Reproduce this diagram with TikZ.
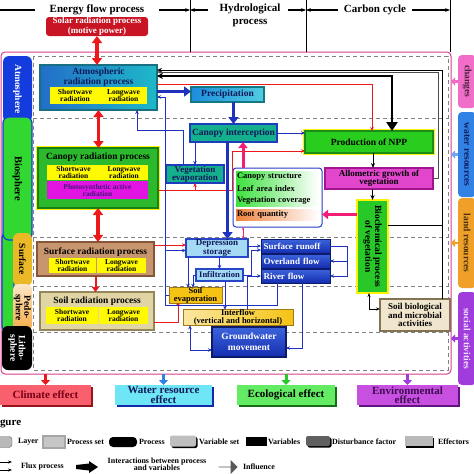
\documentclass[tikz,border=0pt]{standalone}
\usepackage{fontspec}
\setmainfont{Liberation Serif}
\usetikzlibrary{arrows.meta,shadows,shapes.arrows}

\definecolor{solarred}{RGB}{200,20,35}
\definecolor{atmL}{RGB}{35,110,200}
\definecolor{atmR}{RGB}{30,185,200}
\definecolor{atmD}{RGB}{25,110,130}
\definecolor{atmtxt}{RGB}{15,25,90}
\definecolor{subyel}{RGB}{255,250,0}
\definecolor{canG}{RGB}{45,185,45}
\definecolor{canD}{RGB}{20,130,20}
\definecolor{parmag}{RGB}{225,20,225}
\definecolor{partxt}{RGB}{70,20,130}
\definecolor{surfB}{RGB}{200,150,110}
\definecolor{surfD}{RGB}{135,85,55}
\definecolor{soilB}{RGB}{225,212,165}
\definecolor{soilD}{RGB}{150,135,90}
\definecolor{precL}{RGB}{30,140,220}
\definecolor{precR}{RGB}{80,205,225}
\definecolor{precD}{RGB}{20,120,130}
\definecolor{ciG}{RGB}{20,175,140}
\definecolor{ciB}{RGB}{30,60,190}
\definecolor{nppG}{RGB}{40,205,30}
\definecolor{nppD}{RGB}{25,140,25}
\definecolor{alloM}{RGB}{225,70,205}
\definecolor{alloD}{RGB}{160,20,140}
\definecolor{bioG}{RGB}{40,200,40}
\definecolor{sbB}{RGB}{240,230,205}
\definecolor{sbD}{RGB}{130,115,85}
\definecolor{varG}{RGB}{60,225,60}
\definecolor{rootO}{RGB}{240,130,60}
\definecolor{vsB}{RGB}{40,60,200}
\definecolor{dsB}{RGB}{165,218,245}
\definecolor{dsD}{RGB}{40,70,200}
\definecolor{evY}{RGB}{245,195,20}
\definecolor{evD}{RGB}{160,120,20}
\definecolor{rfB}{RGB}{20,45,175}
\definecolor{rfL}{RGB}{60,100,220}
\definecolor{fluxB}{RGB}{30,50,190}
\definecolor{radR}{RGB}{235,25,25}
\definecolor{intM}{RGB}{240,30,120}
\definecolor{framepink}{RGB}{215,60,140}
\definecolor{laygray}{RGB}{130,130,130}
\definecolor{atmoB}{RGB}{20,60,220}
\definecolor{bioL}{RGB}{50,215,50}
\definecolor{surfG}{RGB}{235,185,40}
\definecolor{pedoO}{RGB}{245,170,70}
\definecolor{chgP}{RGB}{240,110,200}
\definecolor{wrB}{RGB}{50,130,230}
\definecolor{lrO}{RGB}{240,160,40}
\definecolor{saP}{RGB}{160,60,220}
\definecolor{climR}{RGB}{250,95,110}
\definecolor{climD}{RGB}{150,20,30}
\definecolor{climT}{RGB}{120,0,20}
\definecolor{watC}{RGB}{110,230,245}
\definecolor{watD}{RGB}{20,40,170}
\definecolor{ecoG}{RGB}{100,235,100}
\definecolor{ecoD}{RGB}{20,110,20}
\definecolor{envP}{RGB}{200,80,225}
\definecolor{envD}{RGB}{100,20,130}

\newcommand\hdrfont{\fontsize{11}{13}\selectfont\bfseries}
\newcommand\solfont{\fontsize{9}{9.5}\selectfont\bfseries}
\newcommand\ttlfont{\fontsize{9.5}{8.5}\selectfont\bfseries}
\newcommand\tightfont{\fontsize{9}{8.3}\selectfont\bfseries}
\newcommand\smtightfont{\fontsize{8.5}{7.8}\selectfont\bfseries}
\newcommand\subtxtfont{\fontsize{7.5}{7}\selectfont\bfseries}
\newcommand\varfont{\fontsize{8.5}{8.5}\selectfont\bfseries}
\newcommand\effont{\fontsize{11}{9.5}\selectfont\bfseries}
\newcommand\legfont{\fontsize{8}{7.5}\selectfont\bfseries}
\newcommand\barfont{\fontsize{9.5}{8.5}\selectfont\bfseries}

\begin{document}
\begin{tikzpicture}[x=1pt,y=-1pt,
  every node/.style={inner sep=0pt,outer sep=0pt,align=center},
  box/.style 2 args={minimum width=#1pt,minimum height=#2pt},
  pset/.style 2 args={fill=#1,draw=#2,line width=2.5pt},
  sub/.style={fill=subyel,font=\subtxtfont},
  varitem/.style={left color=#1,right color=white,text width=80pt,inner xsep=1pt,minimum height=11pt,align=left,font=\varfont},
  hydbox/.style 2 args={fill=#1,draw=#2,line width=1.5pt,font=\tightfont},
  runbox/.style={top color=rfL,bottom color=rfB,draw=rfB!60!black,line width=1pt,text=white,text width=64pt,align=left,font=\fontsize{9}{9}\selectfont\bfseries},
  lbar/.style={rounded corners=6pt},
  rbar/.style={rounded corners=4pt},
  eff/.style 2 args={fill=#1,drop shadow={shadow xshift=2pt,shadow yshift=-2pt,fill=#2,opacity=1},font=\effont},
  legtxt/.style={anchor=west,font=\legfont},
  laydash/.style={draw=laygray,dash pattern=on 4pt off 3pt,line width=0.8pt},
  hdr/.style={line width=1.5pt},
  flux/.style={draw=fluxB,line width=0.9pt,-{Stealth[length=4pt,width=3.5pt]}},
  bigflux/.style={draw=fluxB,line width=3pt,-{Triangle[length=7pt,width=10pt]}},
  rad/.style={draw=radR,line width=3.5pt,{Triangle[length=7pt,width=10pt]}-{Triangle[length=7pt,width=10pt]}},
  radone/.style={draw=radR,line width=2pt,-{Triangle[length=5pt,width=7pt]}},
  redthin/.style={draw=radR,line width=0.9pt,-{Stealth[length=4pt,width=3.5pt]}},
  blk/.style={draw=black,line width=1pt,-{Stealth[length=5pt,width=4pt]}},
  blkthick/.style={draw=black,line width=2.5pt,{Stealth[length=6pt,width=6pt]}-{Triangle[length=9pt,width=11pt]}},
  interact/.style={draw=intM,line width=3pt,-{Triangle[length=6pt,width=9pt]}},
  effarr/.style={draw=#1,line width=3pt,-{Triangle[length=5pt,width=9pt]}},
  rarr/.style={draw=#1,line width=2.5pt,-{Triangle[length=4pt,width=8pt]}}]
\useasboundingbox (0,0) rectangle (474,474);

% frame and layers
\node[draw=framepink,line width=1pt,rounded corners=4pt,box={450}{322}] (frame) at (226,213) {};
\draw[laydash] (33,56) rectangle (448,370);
\foreach \yy in {118,237,286,332} \draw[laydash] (33,\yy) -- (448,\yy);

% header
\node[font=\hdrfont] (efp) at (97,10) {Energy flow process};
\node[font=\hdrfont] (hyd) at (250,15) {Hydrological\\process};
\node[font=\hdrfont] (cc) at (375,10) {Carbon cycle};
\coordinate (sepA) at (190,0);
\coordinate (sepB) at (306,0);
\coordinate (sepC) at (450,0);
\coordinate (lftedge) at (0,10);
\draw (sepA) -- (sepA |- frame.north);
\draw (sepB) -- (sepB |- frame.north);
\draw (sepC) -- (sepC |- frame.north);
\draw[hdr] ([xshift=-15pt]efp.west) -- (lftedge);
\draw[hdr,-{Stealth[length=5pt]}] ([xshift=15pt]efp.east) -- (sepA |- efp);
\draw[hdr,-{Stealth[length=5pt]}] ([xshift=-12pt,yshift=5pt]hyd.west) -- (sepA |- efp);
\draw[hdr,-{Stealth[length=5pt]}] ([xshift=8pt,yshift=5pt]hyd.east) -- (sepB |- efp);
\draw[hdr,-{Stealth[length=5pt]}] ([xshift=-6pt]cc.west) -- (sepB |- cc);
\draw[hdr,-{Stealth[length=5pt]}] ([xshift=6pt]cc.east) -- (sepC |- cc);
\node[fill=solarred,rounded corners=3pt,box={102}{19},text=white,font=\solfont] (solar) at (97,26.5) {Solar radiation process\\(motive power)};

% layer bars
\node[lbar,fill=atmoB,box={29}{66},label={[rotate=-90,text=white,font=\barfont]center:Atmosphere}] (lyatm) at (17.5,89) {};
\node[lbar,fill=bioL,draw=atmoB,line width=1.2pt,box={12}{100}] (lystem) at (8,282) {};
\node[lbar,fill=bioL,draw=atmoB,line width=1.2pt,box={29}{123},label={[rotate=-90,font=\fontsize{10.5}{10}\selectfont\bfseries]center:Biosphere}] (lybio) at (17.5,178.5) {};
\node[lbar,fill=surfG,box={19}{53},label={[rotate=-90,font=\barfont]center:Surface}] (lysurf) at (22.5,259.5) {};
\node[lbar,top color=pedoO!30,bottom color=pedoO,box={19}{47},label={[rotate=-90,font=\barfont]center:{Pedo-\\sphere}}] (lypedo) at (22.5,307.5) {};
\node[lbar,fill=black,box={30}{44},label={[rotate=-90,text=white,font=\barfont]center:{Litho-\\sphere}}] (lylith) at (17,348) {};

\node[rbar,fill=chgP,box={18}{53},label={[rotate=-90,text=chgP!30!black,font=\barfont]center:changes}] (chg) at (467,81.5) {};
\node[rbar,fill=wrB,box={18}{85},label={[rotate=-90,text=atmtxt,font=\barfont]center:water resources}] (wres) at (467,154.5) {};
\node[rbar,fill=lrO,box={18}{90},label={[rotate=-90,text=lrO!30!black,font=\barfont]center:land resources}] (lres) at (467,243) {};
\node[rbar,fill=saP,box={18}{93},label={[rotate=-90,text=saP!15,font=\barfont]center:social activities}] (soc) at (467,338.5) {};

% energy flow
\node[pset={atmL}{atmD},left color=atmL,right color=atmR,box={117}{45}] (atm) at (98.5,87.5) {};
\node[font=\ttlfont,text=atmtxt] (atmttl) at (98.5,77) {Atmospheric\\radiation process};
\node[sub,box={50}{17}] (atmsw) at (75,95.5) {Shortwave\\radiation};
\node[sub,box={47}{17}] (atmlw) at (123.5,95.5) {Longwave\\radiation};

\node[pset={canG}{canD},preaction={draw=yellow,line width=4pt},box={120}{60}] (canrad) at (98,178) {};
\node[font=\ttlfont] (canttl) at (98,157) {Canopy radiation process};
\node[sub,box={53}{15}] (cansw) at (73.5,172.5) {Shortwave\\radiation};
\node[sub,box={48}{15}] (canlw) at (124,172.5) {Longwave\\radiation};
\node[sub,fill=parmag,text=partxt,box={101}{18}] (canpar) at (97.5,190) {Photosynthetic active\\radiation};

\node[pset={surfB}{surfD},box={117}{34}] (surfrad) at (95.5,259) {};
\node[font=\ttlfont] (surfttl) at (95.5,252) {Surface radiation process};
\node[sub,box={47}{15}] (surfsw) at (72.5,265.5) {Shortwave\\radiation};
\node[sub,box={49}{15}] (surflw) at (121.5,265.5) {Longwave\\radiation};

\node[pset={soilB}{soilD},box={114}{38}] (soilrad) at (97,311) {};
\node[font=\ttlfont] (soilttl) at (97,301.5) {Soil radiation process};
\node[sub,box={52}{17}] (soilsw) at (72,315.5) {Shortwave\\radiation};
\node[sub,box={49}{17}] (soillw) at (123.5,315.5) {Longwave\\radiation};

% hydrological process
\node[hydbox={precL}{precD},left color=precL,right color=precR,box={73}{15},text=atmtxt,font=\ttlfont] (precip) at (227.5,94.5) {Precipitation};
\node[hydbox={ciG}{ciB},box={87}{18},text=atmtxt,font=\ttlfont] (canint) at (233.5,133) {Canopy interception};
\node[hydbox={ciG}{ciB},box={58}{18},text=atmtxt] (vegevap) at (195,174) {Vegetation\\evaporation};
\node[hydbox={dsB}{dsD},box={62}{18},text=atmtxt] (depr) at (217,248) {Depression\\storage};
\node[hydbox={dsB}{dsD},box={47}{12},text=atmtxt,font=\fontsize{8.5}{8}\selectfont\bfseries] (infil) at (219.5,275) {Infiltration};
\node[hydbox={evY}{evD},line width=1pt,box={53}{15},font=\smtightfont] (soilevap) at (195.5,295.5) {Soil\\evaporation};
\node[hydbox={evY}{evD},line width=1pt,left color=evY!40,right color=evY,box={110}{15},font=\smtightfont] (interflow) at (238,317.5) {Interflow\\(vertical and horizontal)};
\node[hydbox={rfB}{rfB!60!black},top color=rfL,bottom color=rfB,box={74}{30},text=white,font=\fontsize{9.5}{11}\selectfont\bfseries] (gw) at (249,342) {Groundwater\\movement};
\node[runbox,box={69}{14}] (runoff) at (295.5,246) {Surface runoff};
\node[runbox,box={69}{14}] (overland) at (295.5,261) {Overland flow};
\node[runbox,box={69}{14}] (river) at (295.5,276) {River flow};

% carbon cycle
\node[fill=nppG,draw=nppD,line width=2pt,preaction={draw=yellow,line width=3.5pt},box={128}{22},font=\ttlfont] (npp) at (369,142) {Production of NPP};
\node[fill=alloM,draw=alloD,line width=2pt,box={108}{21},font=\tightfont] (allo) at (379,178.5) {Allometric growth of\\vegetation};
\node[fill=bioG,draw=yellow,line width=1.5pt,box={31}{93},label={[rotate=-90,font=\ttlfont]center:{Biochemical process\\of vegetation}}] (biochem) at (372.5,246.5) {};
\node[pset={sbB}{sbD},box={70}{32},font=\fontsize{9}{7.8}\selectfont\bfseries] (soilbio) at (415,315) {Soil biological\\and microbial\\activities};

% variable set
\node[draw=vsB,line width=1pt,rounded corners=3pt,fill=white,box={89}{59}] (varset) at (277.5,197.5) {};
\node[varitem=varG] (cstruct) at (277,176.5) {Canopy structure};
\node[varitem=varG] (lai) at (277,188.5) {Leaf area index};
\node[varitem=varG] (vcover) at (277,200.5) {Vegetation coverage};
\node[varitem=rootO] (rquant) at (277,214.5) {Root quantity};

% waypoints
\coordinate (sbtop) at ([xshift=27pt]soilbio.north);
\coordinate (redline) at ([yshift=-12pt]canrad.east);
\coordinate (redup) at (232,151);
\coordinate (evapline) at ([xshift=-4pt]soilevap.west);
\coordinate (prin) at ([yshift=3pt]precip.west);
\coordinate (cidrop) at ([xshift=-6pt]canint.south);
\coordinate (ciint) at ([xshift=9.5pt]canint.south);
\coordinate (drin) at ([yshift=3pt]depr.west);
\coordinate (drin2) at ([yshift=-2.5pt]depr.west);
\coordinate (drout) at ([yshift=2pt]depr.east);
\coordinate (sedot) at ([xshift=-17.5pt]soilevap.south);
\coordinate (dsdrop) at ([xshift=-29pt]depr.south);
\coordinate (seinf) at ([xshift=-2.5pt]soilevap.north);
\coordinate (ifdrop) at ([xshift=5.5pt]infil.south);
\coordinate (ifrise) at ([xshift=9pt]interflow.north);
\coordinate (ifgw) at ([xshift=-48pt]interflow.south);
\coordinate (rvdrop) at ([xshift=-18.5pt]river.south);
\coordinate (rvlow) at ([yshift=-22pt]rvdrop);
\coordinate (rvgw) at ([xshift=6.5pt]river.south);
\coordinate (nppdn) at ([xshift=4pt]npp.south);
\coordinate (bcdn) at ([xshift=-3.5pt]biochem.south);

% radiation links
\draw[rad] (solar.south) -- (solar.south |- atm.north);
\draw[rad] (atm.south) -- (atm.south |- canrad.north);
\draw[rad] (canrad.south) -- (canrad.south |- surfrad.north);
\draw[radone] (surfrad.south) -- (surfrad.south |- soilrad.north);
\draw[redthin] (redline) -| (redup) -- (redup -| npp.west);
\draw[redthin] (redline -| vegevap.south) -- (vegevap.south);
\draw[redthin] (drin -| surfrad.east) -- (drin);
\draw[draw=radR,line width=0.9pt,-{Circle[length=3pt]}] ([yshift=-11pt]soilrad.east) -| (sedot);

% water links
\draw[bigflux] (prin -| atm.east) -- (prin);
\draw[bigflux] (canint.north |- precip.south) -- (canint.north);
\draw[bigflux] (cidrop) -- (cidrop |- depr.north);
\draw[flux] (canint.east) -- (canint.east -| npp.west);
\draw[flux] (canint.south -| vegevap.north) -- (vegevap.north);
\draw[flux] ([xshift=-12pt]vegevap.north) -- ++(0,-35) -| ([xshift=38.5pt]atm.south);
\draw[flux] (soilevap.west) -- (evapline) |- ([yshift=-9.5pt]atm.east);
\draw[flux] (evapline |- drin2) -- (drin2);
\draw[fluxB,line width=0.9pt] (rvdrop) |- (evapline |- rvlow) -- (evapline);
\draw[flux] (drout) -- (drout -| runoff.west);
\draw[flux] (infil.north |- depr.south) -- (infil.north);
\draw[flux] (dsdrop) -- (dsdrop |- soilevap.north);
\draw[flux] (infil.west) -| (seinf);
\draw[flux] (ifdrop) -- (ifdrop |- interflow.north);
\draw[flux] (infil.east) -- ++(8,0) |- ([yshift=-4pt]runoff.west);
\draw[flux] (runoff.east) -- ++(17,0) coordinate (rbk) |- (overland.east);
\draw[flux] (rbk) |- (river.east);
\draw[flux] (ifrise) |- (river.west);
\draw[flux] (rvgw) |- ([yshift=-6pt]gw.east);
\draw[flux,{Stealth[length=4pt,width=3.5pt]}-{Stealth[length=4pt,width=3.5pt]}] (ifgw) |- ([yshift=-8pt]gw.west);

% carbon links
\draw[blkthick] ([yshift=11.5pt]atm.east) -| ([xshift=23pt]npp.north);
\draw[redthin] ([yshift=3.5pt]atm.east) -| ([xshift=3pt]npp.north);
\draw[blk,draw=gray!60!black,line width=0.8pt] (allo.east) -- ++(5,0) |- ([yshift=15.5pt]atm.east);
\draw[blk] (sbtop) |- ([yshift=17.5pt]atm.east);
\draw[line width=1pt] ([yshift=21.5pt]biochem.east) -- ([yshift=21.5pt]biochem.east -| sbtop);
\draw[blk] (nppdn) -- (nppdn |- allo.north);
\draw[blk] (biochem.north |- allo.south) -- (biochem.north);
\draw[blk,{Stealth[length=4pt,width=3pt]}-{Stealth[length=4pt,width=3pt]}] (bcdn) |- ([yshift=6pt]soilbio.west);
\draw[interact] (ciint |- varset.north) -- (ciint);
\draw[interact] (biochem.west |- rquant) -- (varset.east |- rquant);
\draw[draw=intM,line width=1pt,{Stealth[length=3pt]}-{Stealth[length=3pt]}] (ciint |- varset.south) -- (ciint |- depr.north);

% drivers and effects
\draw[rarr=chgP] (chg.west) -- (chg.west -| frame.east);
\draw[rarr=wrB!70] (wres.west) -- (wres.west -| frame.east);
\draw[rarr=lrO] (lres.west) -- (lres.west -| frame.east);
\draw[rarr=saP] (soc.west) -- (soc.west -| frame.east);

\node[eff={climR}{climD},box={91}{20},text=climT] (clim) at (45.5,395) {Climate effect};
\node[eff={watC}{watD},box={97}{20},text=atmtxt] (water) at (163.5,395) {Water resource\\effect};
\node[eff={ecoG}{ecoD},box={98}{20},text=black] (eco) at (286,395) {Ecological effect};
\node[eff={envP}{envD},box={101}{20},text=envD!60!black] (env) at (407.5,395) {Environmental\\effect};
\draw[effarr=radR] (frame.south -| clim) -- (clim.north);
\draw[effarr=wrB] (frame.south -| water) -- (water.north);
\draw[effarr=bioG] (frame.south -| eco) -- (eco.north);
\draw[effarr=saP] (frame.south -| env) -- (env.north);

% legend
\node[anchor=west,font=\hdrfont] (lgd) at (0,424) {gure};
\node[fill=gray!55,draw=gray!80!black,rounded corners=3pt,box={20}{11}] (iclayer) at (2,442) {};
\node[legtxt] (tlayer) at (18,442) {Layer};
\node[fill=gray!45,draw=gray!70,line width=1.5pt,box={22}{12}] (icpset) at (54,442) {};
\node[legtxt] (tpset) at (67,442) {Process set};
\node[fill=black,rounded corners=4pt,box={28}{10}] (icproc) at (123,442) {};
\node[legtxt] (tproc) at (139,442) {Process};
\node[fill=gray!50,rounded corners=2pt,drop shadow={shadow xshift=1.5pt,shadow yshift=-1.5pt,fill=black,opacity=1},box={26}{11}] (icvset) at (183,441) {};
\node[legtxt] (tvset) at (199,442) {Variable set};
\node[fill=black,box={21}{9}] (icvar) at (256.5,441) {};
\node[legtxt] (tvar) at (268,442) {Variables};
\node[fill=gray!75!black,rounded corners=2pt,drop shadow={shadow xshift=1.5pt,shadow yshift=-1.5pt,fill=black,opacity=1},box={24}{10}] (icdist) at (318,441) {};
\node[legtxt] (tdist) at (332,442) {Disturbance factor};
\node[fill=gray!55,drop shadow={shadow xshift=1.5pt,shadow yshift=-1.5pt,fill=black,opacity=1},box={28}{10}] (iceff) at (418.5,441) {};
\node[legtxt] (teff) at (438,442) {Effectors};

\coordinate (fxa) at (-4,462);
\coordinate (fxb) at (12,462);
\coordinate (fxc) at (-4,470);
\coordinate (fxd) at (12,470);
\draw[line width=0.8pt,-{Stealth[length=4pt]}] (fxa) -- (fxb);
\draw[line width=0.8pt,-{Stealth[length=4pt]}] (fxc) -- (fxd);
\node[legtxt] (tflux) at (21,467) {Flux process};
\fill (76,465) -- (89,463.5) -- (89,461) -- (98,467) -- (89,473) -- (89,470.5) -- (76,469) -- cycle;
\node[font=\legfont] (tint) at (157,464.5) {Interactions between process\\and variables};
\node[single arrow,fill=gray!70!black,minimum height=19pt,minimum width=14pt,single arrow head extend=3pt] (icinf) at (228,467) {};
\node[legtxt] (tinf) at (243,467) {Influence};
\end{tikzpicture}
\end{document}
